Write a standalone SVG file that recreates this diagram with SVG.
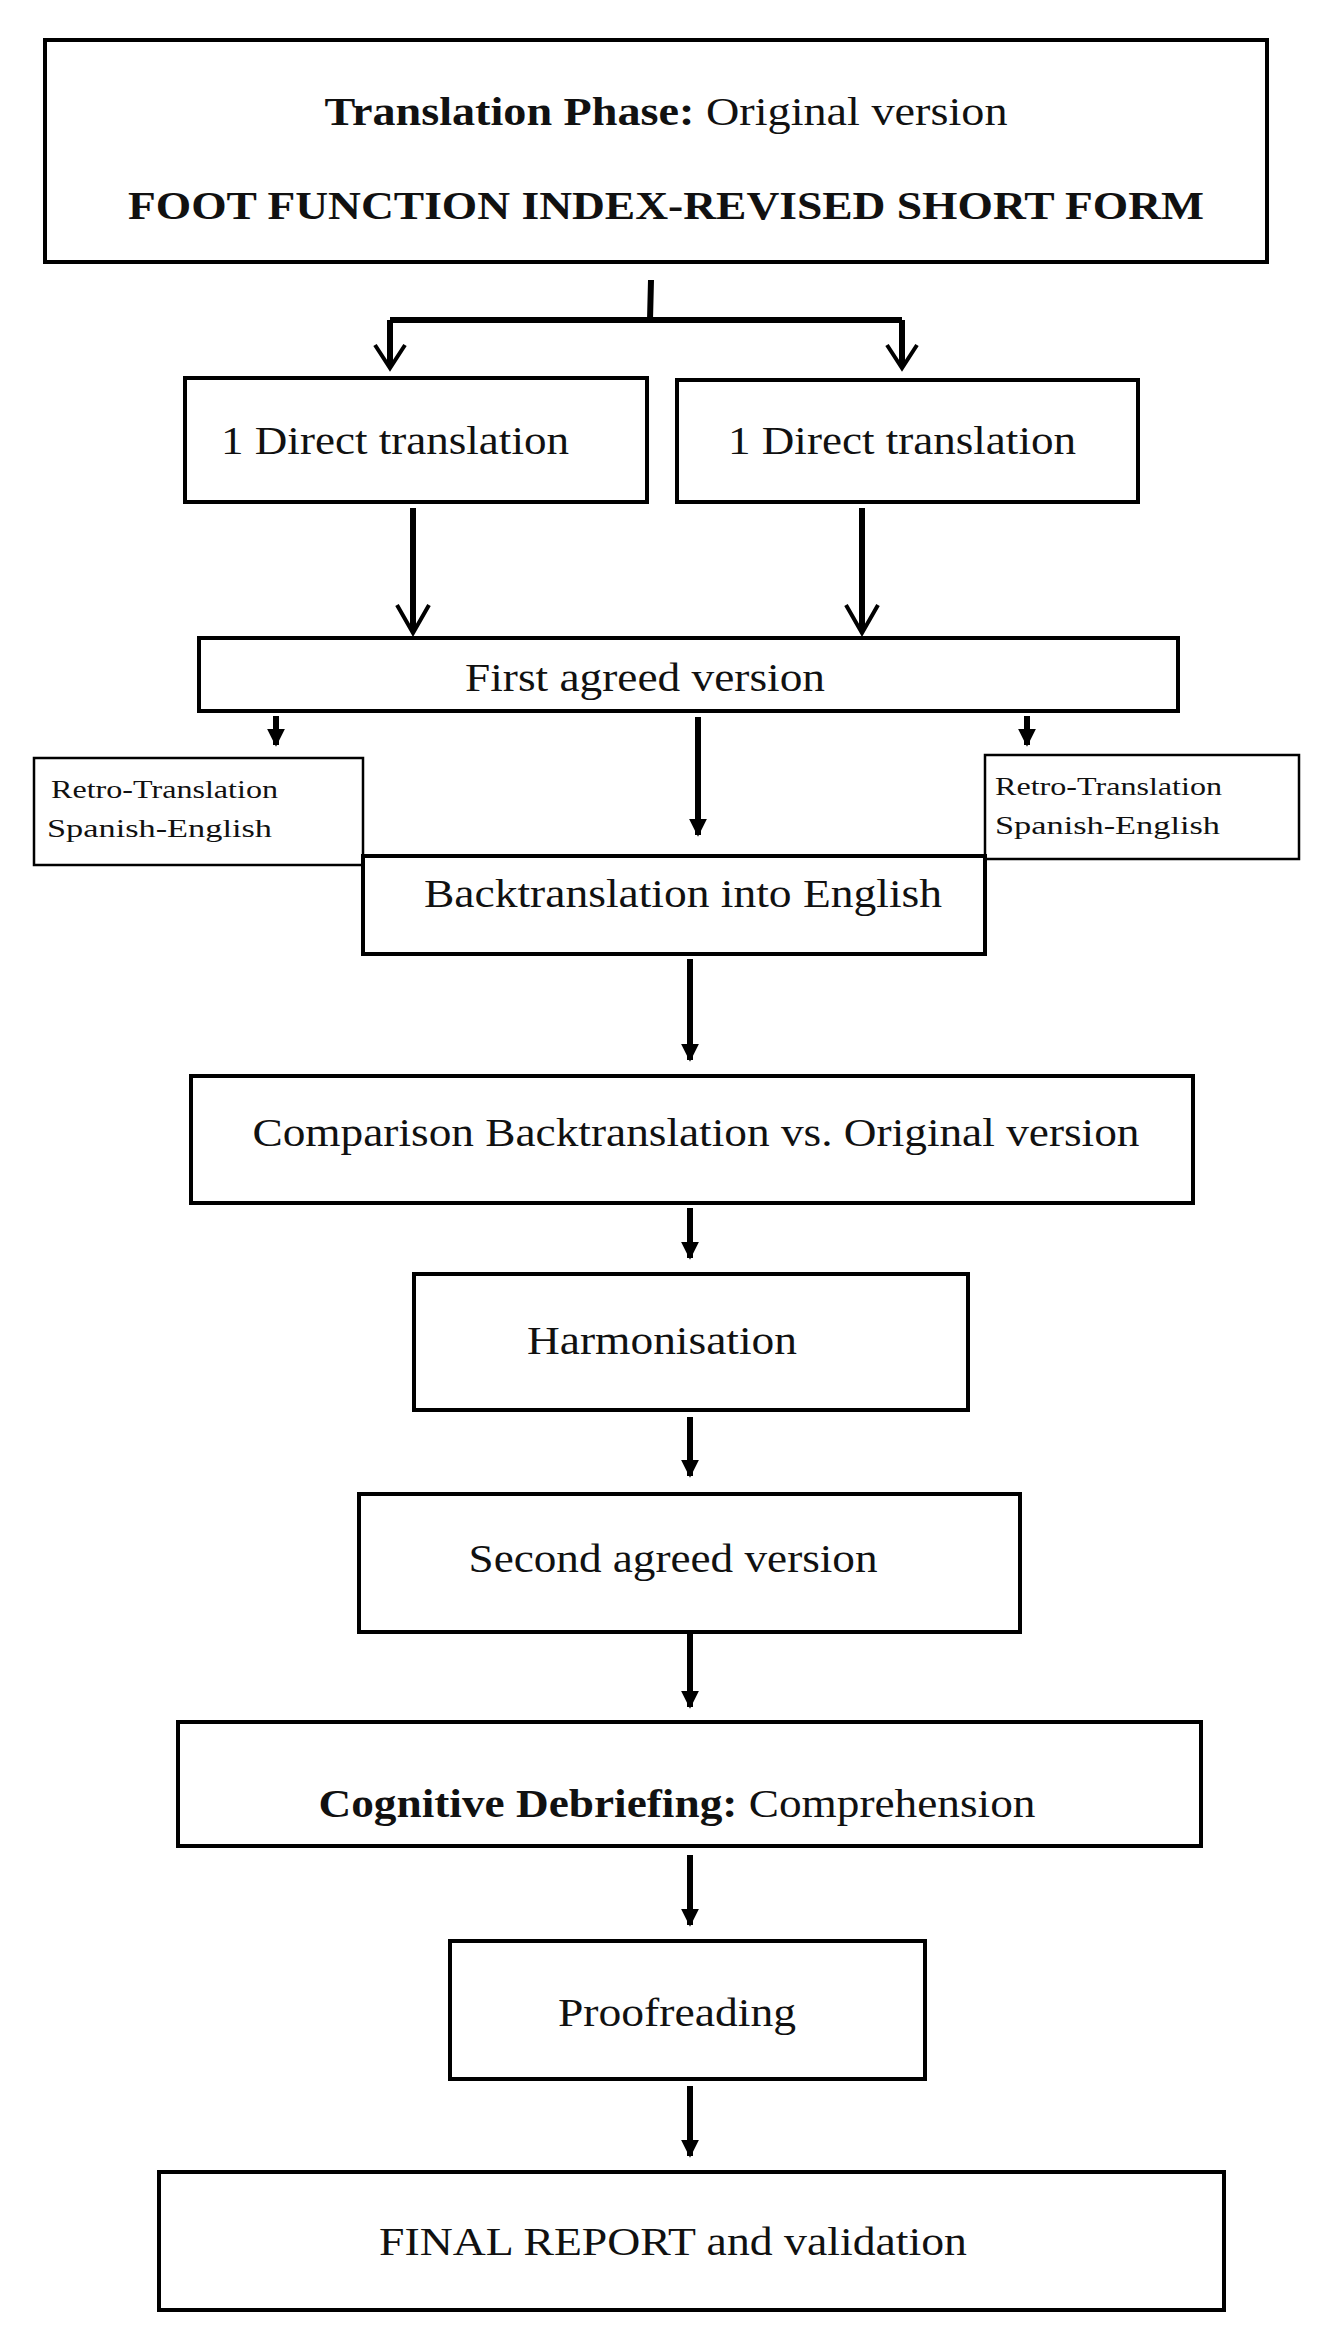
<svg xmlns="http://www.w3.org/2000/svg" width="1325" height="2337" viewBox="0 0 1325 2337">
<style>
.b{fill:#fff;stroke:#000;stroke-width:4}
.bt{fill:#fff;stroke:#000;stroke-width:2.5}
text{font-family:"Liberation Serif","Times New Roman",serif;font-size:40px;fill:#111;text-anchor:middle}
.s{font-size:26px;text-anchor:start}
.c{stroke:#000;stroke-width:6;fill:none}
.a{stroke:#000;stroke-width:6;fill:none;marker-end:url(#tri)}
.v{stroke:#000;stroke-width:4;fill:none}
</style>
<defs>
<marker id="tri" viewBox="0 0 10 10" refX="9" refY="5" markerWidth="3" markerHeight="3.5" orient="auto" markerUnits="strokeWidth"><path d="M0,0L10,5L0,10z" fill="#000"/></marker>
</defs>
<rect width="1325" height="2337" fill="#fff"/>
<g id="connectors">
<path class="c" d="M651,280L650,320M390,320H902"/>
<path class="c" d="M390,320V366M902,320V366"/>
<path class="v" d="M375,345L390,368L405,345M887,345L902,368L917,345"/>
<path class="c" d="M413,508V630M862,508V630"/>
<path class="v" d="M397,605L413,633L429,605M846,605L862,633L878,605"/>
<path class="a" d="M276,716V745"/>
<path class="a" d="M1027,716V745"/>
<path class="a" d="M698,717V835"/>
<path class="a" d="M690,959V1060"/>
<path class="a" d="M690,1208V1258"/>
<path class="a" d="M690,1417V1476"/>
<path class="a" d="M690,1634V1707"/>
<path class="a" d="M690,1855V1925"/>
<path class="a" d="M690,2086V2156"/>
</g>
<g id="n_top"><rect class="b" x="45" y="40" width="1222" height="222"/>
<text x="666" y="125" textLength="683" lengthAdjust="spacingAndGlyphs"><tspan font-weight="bold">Translation Phase:</tspan>  Original version</text>
<text x="666" y="219" font-weight="bold" textLength="1076" lengthAdjust="spacingAndGlyphs">FOOT FUNCTION INDEX-REVISED SHORT FORM</text></g>
<g id="n_d1"><rect class="b" x="185" y="378" width="462" height="124"/><text x="395" y="454" textLength="348" lengthAdjust="spacingAndGlyphs">1 Direct translation</text></g>
<g id="n_d2"><rect class="b" x="677" y="380" width="461" height="122"/><text x="902" y="454" textLength="348" lengthAdjust="spacingAndGlyphs">1 Direct translation</text></g>
<g id="n_first"><rect class="b" x="199" y="638" width="979" height="73"/><text x="645" y="691" textLength="360" lengthAdjust="spacingAndGlyphs">First agreed version</text></g>
<g id="n_retro1"><rect class="bt" x="34" y="758" width="329" height="107"/><text class="s" x="51" y="798" textLength="227" lengthAdjust="spacingAndGlyphs">Retro-Translation</text><text class="s" x="47" y="837" textLength="225" lengthAdjust="spacingAndGlyphs">Spanish-English</text></g>
<g id="n_retro2"><rect class="bt" x="985" y="755" width="314" height="104"/><text class="s" x="995" y="795" textLength="227" lengthAdjust="spacingAndGlyphs">Retro-Translation</text><text class="s" x="995" y="834" textLength="225" lengthAdjust="spacingAndGlyphs">Spanish-English</text></g>
<g id="n_back"><rect class="b" x="363" y="856" width="622" height="98"/><text x="683" y="907" textLength="518" lengthAdjust="spacingAndGlyphs">Backtranslation into English</text></g>
<g id="n_comp"><rect class="b" x="191" y="1076" width="1002" height="127"/><text x="696" y="1146" textLength="887" lengthAdjust="spacingAndGlyphs">Comparison Backtranslation vs. Original version</text></g>
<g id="n_harm"><rect class="b" x="414" y="1274" width="554" height="136"/><text x="662" y="1354" textLength="270" lengthAdjust="spacingAndGlyphs">Harmonisation</text></g>
<g id="n_second"><rect class="b" x="359" y="1494" width="661" height="138"/><text x="673" y="1572" textLength="409" lengthAdjust="spacingAndGlyphs">Second agreed version</text></g>
<g id="n_cog"><rect class="b" x="178" y="1722" width="1023" height="124"/><text x="677" y="1817" textLength="717" lengthAdjust="spacingAndGlyphs"><tspan font-weight="bold">Cognitive Debriefing:</tspan> Comprehension</text></g>
<g id="n_proof"><rect class="b" x="450" y="1941" width="475" height="138"/><text x="677" y="2026" textLength="238" lengthAdjust="spacingAndGlyphs">Proofreading</text></g>
<g id="n_final"><rect class="b" x="159" y="2172" width="1065" height="138"/><text x="673" y="2255" textLength="588" lengthAdjust="spacingAndGlyphs">FINAL REPORT and validation</text></g>
</svg>
